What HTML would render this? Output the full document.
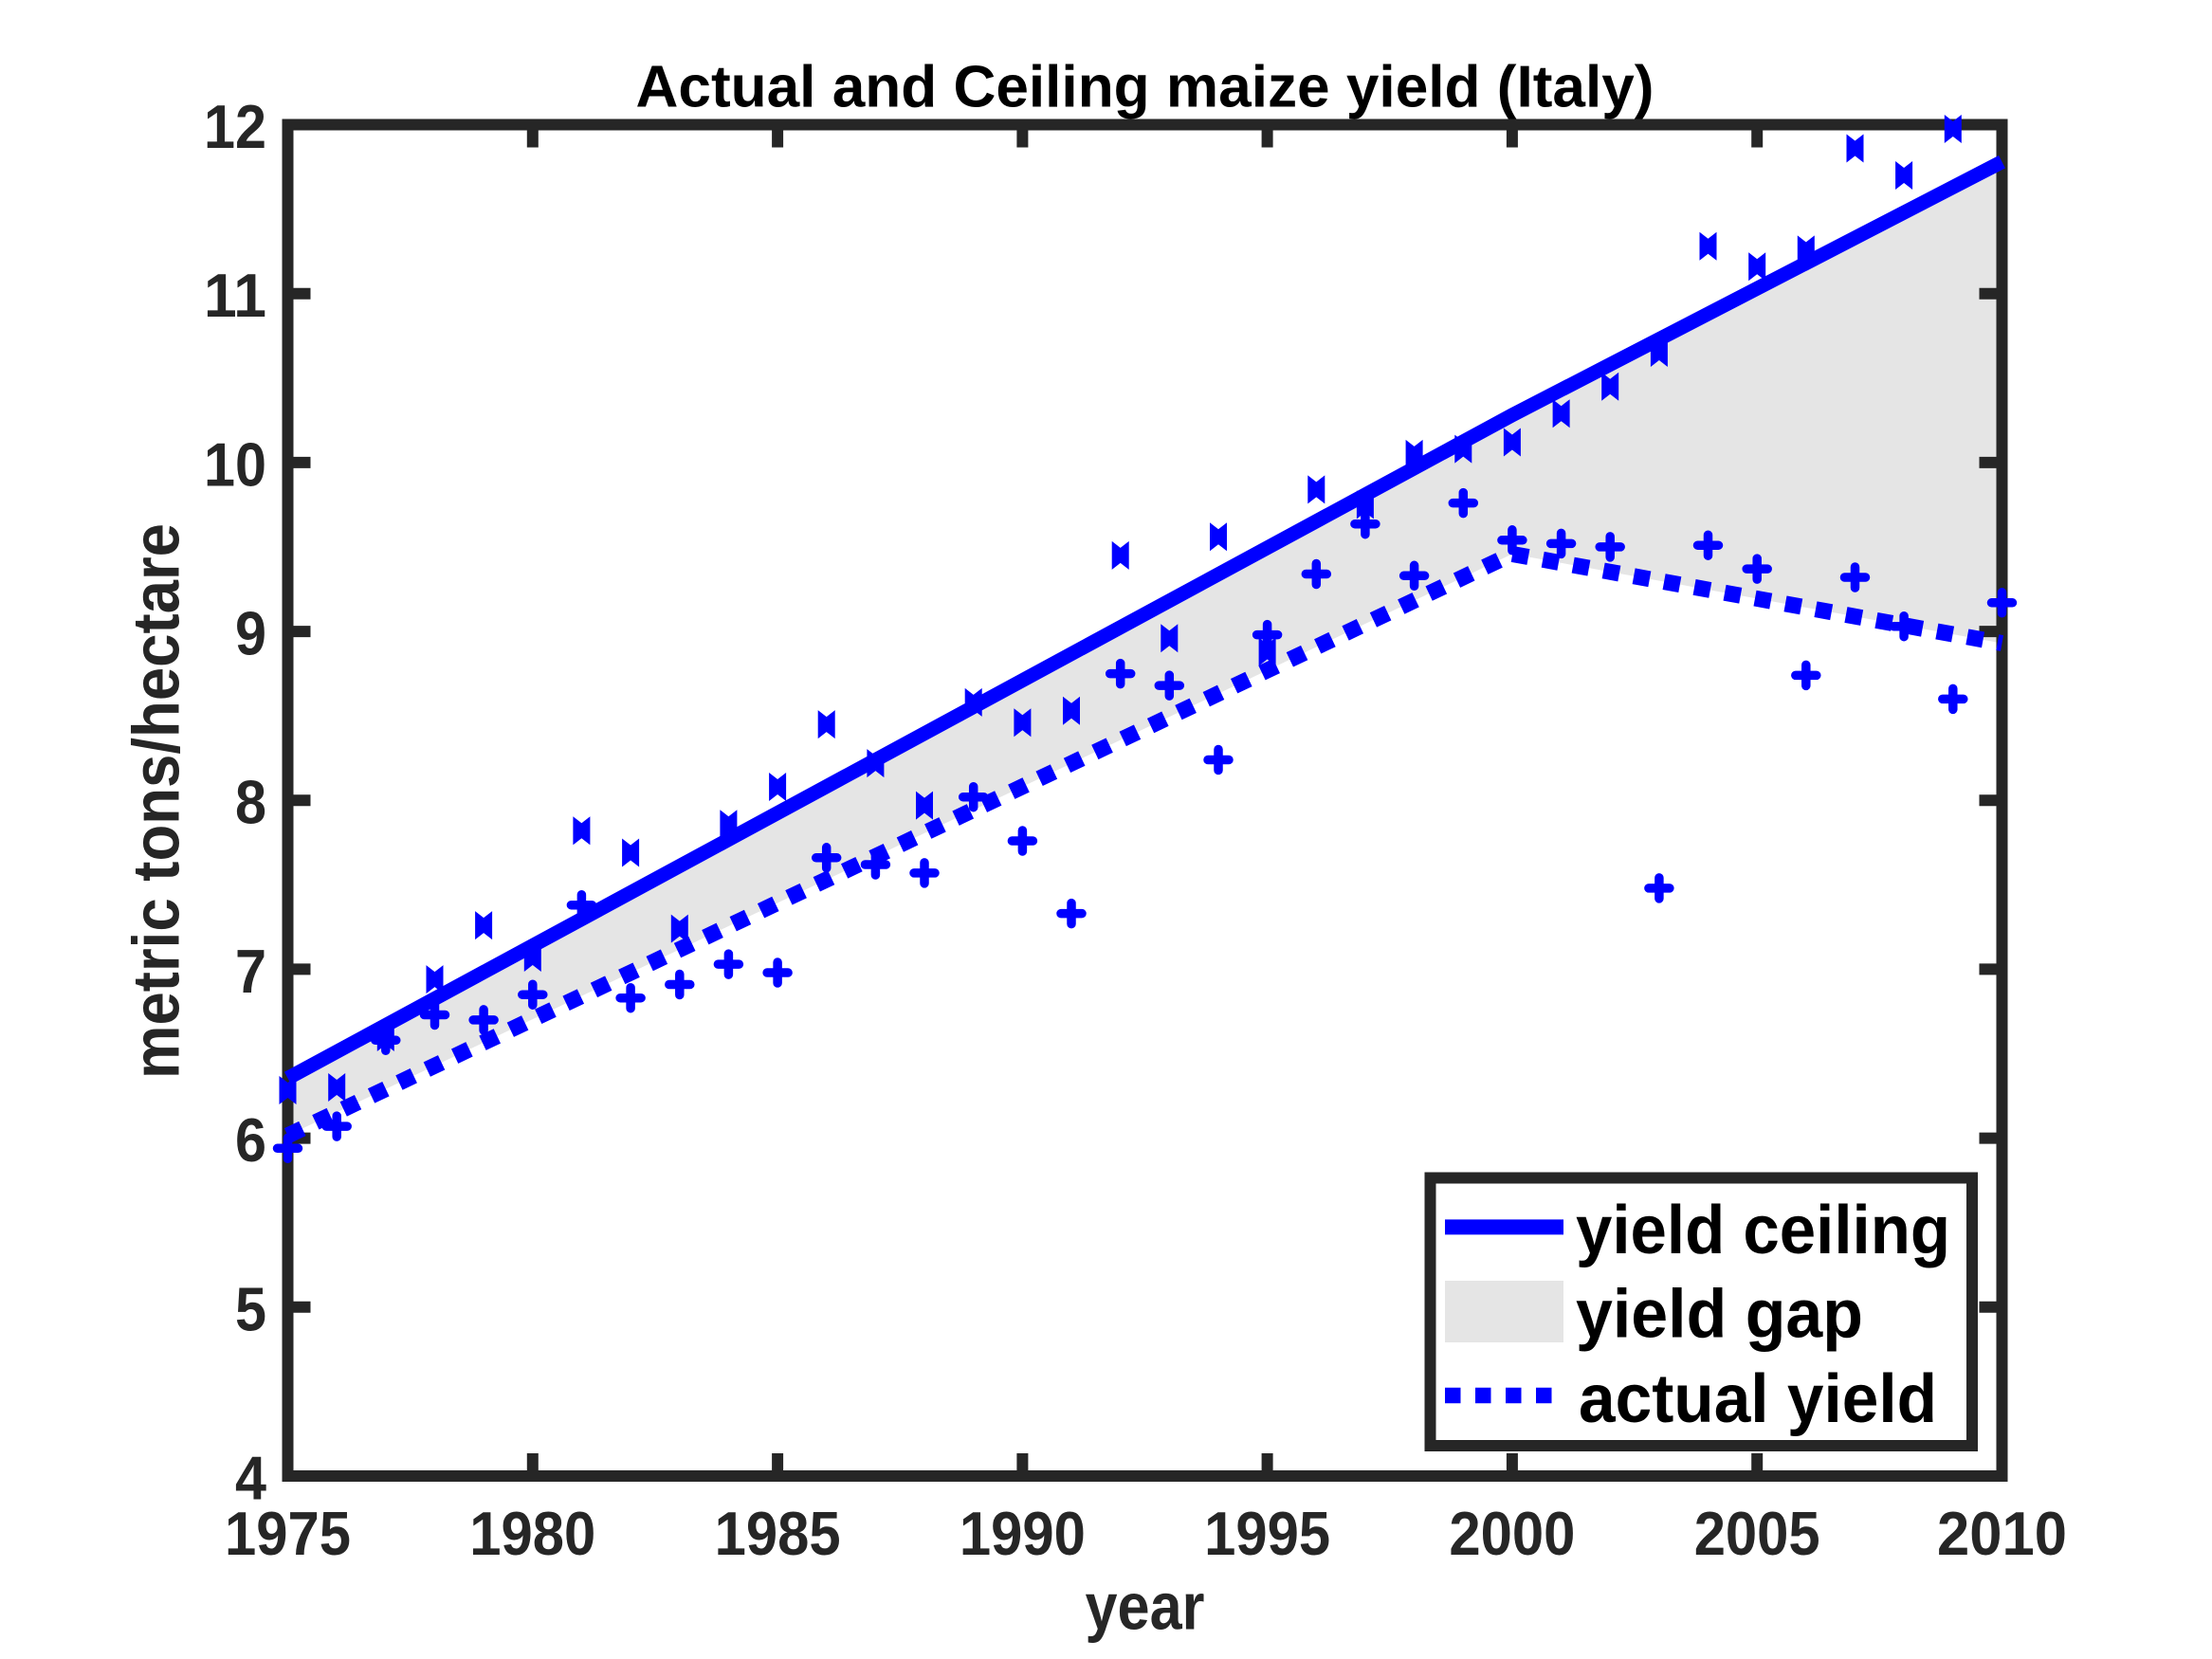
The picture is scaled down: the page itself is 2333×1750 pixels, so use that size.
<!DOCTYPE html>
<html>
<head>
<meta charset="utf-8">
<style>
  html, body { margin:0; padding:0; background:#ffffff; }
  svg { display:block; }
  text { font-family: "Liberation Sans", Arial, Helvetica, sans-serif; font-weight: bold; }
</style>
</head>
<body>
<svg width="2333" height="1750" viewBox="0 0 2333 1750" xmlns="http://www.w3.org/2000/svg">
  <rect x="0" y="0" width="2333" height="1750" fill="#ffffff"/>

  <!-- yield gap fill -->
  <polygon points="303.5,1137.4 1594.9,437.9 2111.5,170.7 2111.5,678.5 1594.9,584.4 303.5,1197.8" fill="#e5e5e5"/>

  <!-- axes box -->
  <rect x="303.5" y="131.5" width="1808" height="1425.5" fill="none" stroke="#262626" stroke-width="12"/>

  <!-- ticks -->
  <g stroke="#262626" stroke-width="12">
    <!-- x ticks bottom and top -->
    <line x1="561.8" y1="1557" x2="561.8" y2="1533"/>
    <line x1="820.1" y1="1557" x2="820.1" y2="1533"/>
    <line x1="1078.4" y1="1557" x2="1078.4" y2="1533"/>
    <line x1="1336.6" y1="1557" x2="1336.6" y2="1533"/>
    <line x1="1594.9" y1="1557" x2="1594.9" y2="1533"/>
    <line x1="1853.2" y1="1557" x2="1853.2" y2="1533"/>
    <line x1="561.8" y1="131.5" x2="561.8" y2="155.5"/>
    <line x1="820.1" y1="131.5" x2="820.1" y2="155.5"/>
    <line x1="1078.4" y1="131.5" x2="1078.4" y2="155.5"/>
    <line x1="1336.6" y1="131.5" x2="1336.6" y2="155.5"/>
    <line x1="1594.9" y1="131.5" x2="1594.9" y2="155.5"/>
    <line x1="1853.2" y1="131.5" x2="1853.2" y2="155.5"/>
    <!-- y ticks left and right -->
    <line x1="303.5" y1="1378.8" x2="327.5" y2="1378.8"/>
    <line x1="303.5" y1="1200.6" x2="327.5" y2="1200.6"/>
    <line x1="303.5" y1="1022.4" x2="327.5" y2="1022.4"/>
    <line x1="303.5" y1="844.2" x2="327.5" y2="844.2"/>
    <line x1="303.5" y1="666.1" x2="327.5" y2="666.1"/>
    <line x1="303.5" y1="487.9" x2="327.5" y2="487.9"/>
    <line x1="303.5" y1="309.7" x2="327.5" y2="309.7"/>
    <line x1="2111.5" y1="1378.8" x2="2087.5" y2="1378.8"/>
    <line x1="2111.5" y1="1200.6" x2="2087.5" y2="1200.6"/>
    <line x1="2111.5" y1="1022.4" x2="2087.5" y2="1022.4"/>
    <line x1="2111.5" y1="844.2" x2="2087.5" y2="844.2"/>
    <line x1="2111.5" y1="666.1" x2="2087.5" y2="666.1"/>
    <line x1="2111.5" y1="487.9" x2="2087.5" y2="487.9"/>
    <line x1="2111.5" y1="309.7" x2="2087.5" y2="309.7"/>
  </g>

  <!-- x tick labels -->
  <g fill="#262626" font-size="65" text-anchor="middle">
    <text x="303.5" y="1640" textLength="133" lengthAdjust="spacingAndGlyphs">1975</text>
    <text x="561.8" y="1640" textLength="133" lengthAdjust="spacingAndGlyphs">1980</text>
    <text x="820.1" y="1640" textLength="133" lengthAdjust="spacingAndGlyphs">1985</text>
    <text x="1078.4" y="1640" textLength="133" lengthAdjust="spacingAndGlyphs">1990</text>
    <text x="1336.6" y="1640" textLength="133" lengthAdjust="spacingAndGlyphs">1995</text>
    <text x="1594.9" y="1640" textLength="133" lengthAdjust="spacingAndGlyphs">2000</text>
    <text x="1853.2" y="1640" textLength="133" lengthAdjust="spacingAndGlyphs">2005</text>
    <text x="2111.5" y="1640" textLength="137" lengthAdjust="spacingAndGlyphs">2010</text>
  </g>

  <!-- y tick labels -->
  <g fill="#262626" font-size="65" text-anchor="end">
    <text x="281" y="1581.5" textLength="33" lengthAdjust="spacingAndGlyphs">4</text>
    <text x="281" y="1403.3" textLength="33" lengthAdjust="spacingAndGlyphs">5</text>
    <text x="281" y="1225.1" textLength="33" lengthAdjust="spacingAndGlyphs">6</text>
    <text x="281" y="1046.9" textLength="33" lengthAdjust="spacingAndGlyphs">7</text>
    <text x="281" y="868.7" textLength="33" lengthAdjust="spacingAndGlyphs">8</text>
    <text x="281" y="690.6" textLength="33" lengthAdjust="spacingAndGlyphs">9</text>
    <text x="281" y="512.4" textLength="66" lengthAdjust="spacingAndGlyphs">10</text>
    <text x="281" y="334.2" textLength="66" lengthAdjust="spacingAndGlyphs">11</text>
    <text x="281" y="156" textLength="66" lengthAdjust="spacingAndGlyphs">12</text>
  </g>

  <!-- title and axis labels -->
  <text x="1207.5" y="112.7" font-size="62" fill="#000000" text-anchor="middle" textLength="1074" lengthAdjust="spacingAndGlyphs">Actual and Ceiling maize yield (Italy)</text>
  <text x="1207.5" y="1718.3" font-size="70" fill="#262626" text-anchor="middle" textLength="126" lengthAdjust="spacingAndGlyphs">year</text>
  <text transform="translate(188.3,845) rotate(-90)" x="0" y="0" font-size="70" fill="#262626" text-anchor="middle" textLength="586" lengthAdjust="spacingAndGlyphs">metric tons/hectare</text>

  <!-- ceiling line -->
  <polyline points="303.5,1137.4 1594.9,437.9 2111.5,170.7" fill="none" stroke="#0000ff" stroke-width="15" stroke-linejoin="miter"/>
  <!-- actual yield dotted line -->
  <polyline points="303.5,1197.8 1594.9,584.4 2111.5,678.5" fill="none" stroke="#0000ff" stroke-width="17" stroke-dasharray="17 15.5"/>

  <!-- ceiling data markers (bowtie) -->
  <g fill="#0000ff">
    <path transform="translate(303.5,1150)" d="M-9,-15 L0,-8 L9,-15 L9,15 L0,8 L-9,15 Z"/>
    <path transform="translate(355.2,1147)" d="M-9,-15 L0,-8 L9,-15 L9,15 L0,8 L-9,15 Z"/>
    <path transform="translate(406.8,1094)" d="M-9,-15 L0,-8 L9,-15 L9,15 L0,8 L-9,15 Z"/>
    <path transform="translate(458.5,1033.1)" d="M-9,-15 L0,-8 L9,-15 L9,15 L0,8 L-9,15 Z"/>
    <path transform="translate(510.1,976.1)" d="M-9,-15 L0,-8 L9,-15 L9,15 L0,8 L-9,15 Z"/>
    <path transform="translate(561.8,1010.0)" d="M-9,-15 L0,-8 L9,-15 L9,15 L0,8 L-9,15 Z"/>
    <path transform="translate(613.4,876.3)" d="M-9,-15 L0,-8 L9,-15 L9,15 L0,8 L-9,15 Z"/>
    <path transform="translate(665.1,899.5)" d="M-9,-15 L0,-8 L9,-15 L9,15 L0,8 L-9,15 Z"/>
    <path transform="translate(716.8,979.6)" d="M-9,-15 L0,-8 L9,-15 L9,15 L0,8 L-9,15 Z"/>
    <path transform="translate(768.4,869.2)" d="M-9,-15 L0,-8 L9,-15 L9,15 L0,8 L-9,15 Z"/>
    <path transform="translate(820.1,830.0)" d="M-9,-15 L0,-8 L9,-15 L9,15 L0,8 L-9,15 Z"/>
    <path transform="translate(871.7,764.1)" d="M-9,-15 L0,-8 L9,-15 L9,15 L0,8 L-9,15 Z"/>
    <path transform="translate(923.4,805.1)" d="M-9,-15 L0,-8 L9,-15 L9,15 L0,8 L-9,15 Z"/>
    <path transform="translate(975.0,849.6)" d="M-9,-15 L0,-8 L9,-15 L9,15 L0,8 L-9,15 Z"/>
    <path transform="translate(1026.7,740.9)" d="M-9,-15 L0,-8 L9,-15 L9,15 L0,8 L-9,15 Z"/>
    <path transform="translate(1078.4,762.3)" d="M-9,-15 L0,-8 L9,-15 L9,15 L0,8 L-9,15 Z"/>
    <path transform="translate(1130.0,749.8)" d="M-9,-15 L0,-8 L9,-15 L9,15 L0,8 L-9,15 Z"/>
    <path transform="translate(1181.7,585.9)" d="M-9,-15 L0,-8 L9,-15 L9,15 L0,8 L-9,15 Z"/>
    <path transform="translate(1233.3,673.2)" d="M-9,-15 L0,-8 L9,-15 L9,15 L0,8 L-9,15 Z"/>
    <path transform="translate(1285.0,566.3)" d="M-9,-15 L0,-8 L9,-15 L9,15 L0,8 L-9,15 Z"/>
    <path transform="translate(1336.6,687.5)" d="M-9,-15 L0,-8 L9,-15 L9,15 L0,8 L-9,15 Z"/>
    <path transform="translate(1388.3,516.4)" d="M-9,-15 L0,-8 L9,-15 L9,15 L0,8 L-9,15 Z"/>
    <path transform="translate(1439.9,532.4)" d="M-9,-15 L0,-8 L9,-15 L9,15 L0,8 L-9,15 Z"/>
    <path transform="translate(1491.6,478.9)" d="M-9,-15 L0,-8 L9,-15 L9,15 L0,8 L-9,15 Z"/>
    <path transform="translate(1543.3,473.6)" d="M-9,-15 L0,-8 L9,-15 L9,15 L0,8 L-9,15 Z"/>
    <path transform="translate(1594.9,466.5)" d="M-9,-15 L0,-8 L9,-15 L9,15 L0,8 L-9,15 Z"/>
    <path transform="translate(1646.6,436.2)" d="M-9,-15 L0,-8 L9,-15 L9,15 L0,8 L-9,15 Z"/>
    <path transform="translate(1698.2,407.7)" d="M-9,-15 L0,-8 L9,-15 L9,15 L0,8 L-9,15 Z"/>
    <path transform="translate(1749.9,372.0)" d="M-9,-15 L0,-8 L9,-15 L9,15 L0,8 L-9,15 Z"/>
    <path transform="translate(1801.5,259.8)" d="M-9,-15 L0,-8 L9,-15 L9,15 L0,8 L-9,15 Z"/>
    <path transform="translate(1853.2,281.2)" d="M-9,-15 L0,-8 L9,-15 L9,15 L0,8 L-9,15 Z"/>
    <path transform="translate(1904.8,263.4)" d="M-9,-15 L0,-8 L9,-15 L9,15 L0,8 L-9,15 Z"/>
    <path transform="translate(1956.5,156.5)" d="M-9,-15 L0,-8 L9,-15 L9,15 L0,8 L-9,15 Z"/>
    <path transform="translate(2008.1,185.0)" d="M-9,-15 L0,-8 L9,-15 L9,15 L0,8 L-9,15 Z"/>
    <path transform="translate(2059.8,136.0)" d="M-9,-15 L0,-8 L9,-15 L9,15 L0,8 L-9,15 Z"/>
  </g>

  <!-- actual data markers (+) -->
  <g fill="none" stroke="#0000ff" stroke-width="9.5" stroke-linecap="round">
    <path transform="translate(303.5,1211.3)" d="M-11,0 H11 M0,-11 V11"/>
    <path transform="translate(355.2,1188.1)" d="M-11,0 H11 M0,-11 V11"/>
    <path transform="translate(406.8,1097.3)" d="M-11,0 H11 M0,-11 V11"/>
    <path transform="translate(458.5,1070.5)" d="M-11,0 H11 M0,-11 V11"/>
    <path transform="translate(510.1,1075.9)" d="M-11,0 H11 M0,-11 V11"/>
    <path transform="translate(561.8,1049.2)" d="M-11,0 H11 M0,-11 V11"/>
    <path transform="translate(613.4,954.7)" d="M-11,0 H11 M0,-11 V11"/>
    <path transform="translate(665.1,1052.7)" d="M-11,0 H11 M0,-11 V11"/>
    <path transform="translate(716.8,1038.5)" d="M-11,0 H11 M0,-11 V11"/>
    <path transform="translate(768.4,1017.1)" d="M-11,0 H11 M0,-11 V11"/>
    <path transform="translate(820.1,1026.0)" d="M-11,0 H11 M0,-11 V11"/>
    <path transform="translate(871.7,904.8)" d="M-11,0 H11 M0,-11 V11"/>
    <path transform="translate(923.4,912.0)" d="M-11,0 H11 M0,-11 V11"/>
    <path transform="translate(975.0,920.9)" d="M-11,0 H11 M0,-11 V11"/>
    <path transform="translate(1026.7,840.7)" d="M-11,0 H11 M0,-11 V11"/>
    <path transform="translate(1078.4,887.0)" d="M-11,0 H11 M0,-11 V11"/>
    <path transform="translate(1130.0,963.6)" d="M-11,0 H11 M0,-11 V11"/>
    <path transform="translate(1181.7,710.6)" d="M-11,0 H11 M0,-11 V11"/>
    <path transform="translate(1233.3,723.1)" d="M-11,0 H11 M0,-11 V11"/>
    <path transform="translate(1285.0,801.5)" d="M-11,0 H11 M0,-11 V11"/>
    <path transform="translate(1336.6,669.6)" d="M-11,0 H11 M0,-11 V11"/>
    <path transform="translate(1388.3,605.5)" d="M-11,0 H11 M0,-11 V11"/>
    <path transform="translate(1439.9,552.7)" d="M-11,0 H11 M0,-11 V11"/>
    <path transform="translate(1491.6,607.3)" d="M-11,0 H11 M0,-11 V11"/>
    <path transform="translate(1543.3,530.6)" d="M-11,0 H11 M0,-11 V11"/>
    <path transform="translate(1594.9,569.8)" d="M-11,0 H11 M0,-11 V11"/>
    <path transform="translate(1646.6,573.4)" d="M-11,0 H11 M0,-11 V11"/>
    <path transform="translate(1698.2,576.9)" d="M-11,0 H11 M0,-11 V11"/>
    <path transform="translate(1749.9,936.9)" d="M-11,0 H11 M0,-11 V11"/>
    <path transform="translate(1801.5,575.2)" d="M-11,0 H11 M0,-11 V11"/>
    <path transform="translate(1853.2,600.1)" d="M-11,0 H11 M0,-11 V11"/>
    <path transform="translate(1904.8,712.4)" d="M-11,0 H11 M0,-11 V11"/>
    <path transform="translate(1956.5,609.0)" d="M-11,0 H11 M0,-11 V11"/>
    <path transform="translate(2008.1,660.7)" d="M-11,0 H11 M0,-11 V11"/>
    <path transform="translate(2059.8,737.4)" d="M-11,0 H11 M0,-11 V11"/>
    <path transform="translate(2111.5,635.8)" d="M-11,0 H11 M0,-11 V11"/>
  </g>

  <!-- legend -->
  <rect x="1508.5" y="1242.5" width="571.5" height="282.5" fill="#ffffff" stroke="#262626" stroke-width="12"/>
  <line x1="1524" y1="1294.4" x2="1649" y2="1294.4" stroke="#0000ff" stroke-width="16"/>
  <rect x="1524" y="1351" width="125" height="65" fill="#e5e5e5"/>
  <line x1="1524" y1="1472" x2="1637" y2="1472" stroke="#0000ff" stroke-width="16.5" stroke-dasharray="16.5 15.5"/>
  <g fill="#000000" font-size="72">
    <text x="1662" y="1322" textLength="395" lengthAdjust="spacingAndGlyphs">yield ceiling</text>
    <text x="1662" y="1410.5" textLength="303" lengthAdjust="spacingAndGlyphs">yield gap</text>
    <text x="1665" y="1500" textLength="378" lengthAdjust="spacingAndGlyphs">actual yield</text>
  </g>
</svg>
</body>
</html>
